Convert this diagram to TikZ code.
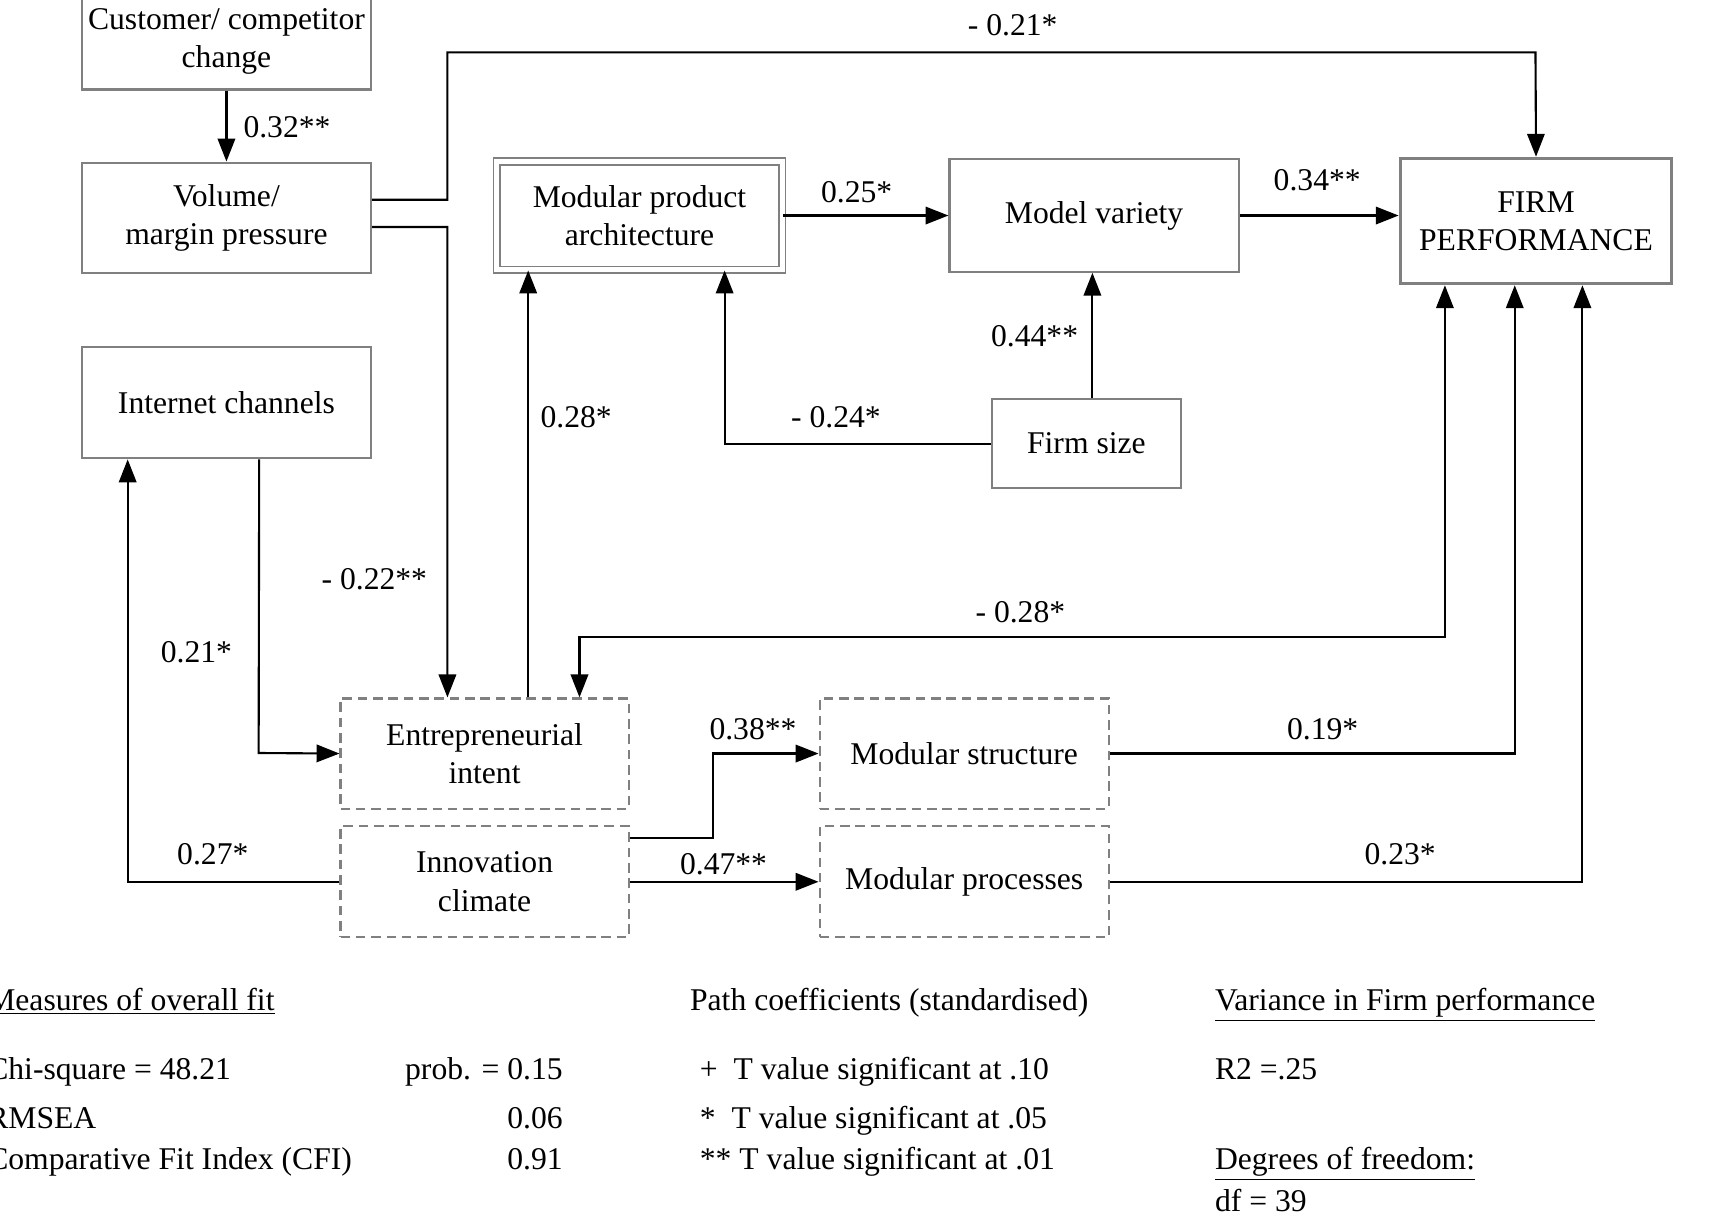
\documentclass[tikz,border=0pt]{standalone}
\usepackage{fontspec}
\setmainfont{Liberation Serif}
\usetikzlibrary{arrows.meta}
\begin{document}
\begin{tikzpicture}[x=0.02cm,y=-0.02cm,
  font=\fontsize{16.5}{20}\selectfont,
  box/.style={draw=black!50, line width=1.1pt, align=center, inner sep=0pt},
  dbox/.style={box, dashed, dash pattern=on 5pt off 3pt},
  arr/.style={-{Triangle[length=0.42cm,width=0.32cm]}, line width=1.1pt},
  lab/.style={inner sep=0pt}]
\useasboundingbox (0,0) rectangle (1566,1114);
\node[box, minimum width=5.3cm, minimum height=1.76cm] (cust) at (207.5,38) {Customer/ competitor\\change};
\node[box, minimum width=5.3cm, minimum height=2.02cm] (vol) at (207.5,199.5) {Volume/\\margin pressure};
\node[box, minimum width=5.3cm, minimum height=2.04cm] (int) at (207.5,369) {Internet channels};
\node[box, double, double distance=2.2pt, line width=1pt, minimum width=5.24cm, minimum height=1.98cm] (mpa) at (586,197.5) {Modular product\\architecture};
\node[box, minimum width=5.3cm, minimum height=2.06cm] (mv) at (1002.5,197.5) {Model variety};
\node[box, line width=1.6pt, minimum width=4.98cm, minimum height=2.3cm] (fp) at (1407.5,202.5) {FIRM\\PERFORMANCE};
\node[box, minimum width=3.46cm, minimum height=1.62cm] (fs) at (995.5,406.5) {Firm size};
\node[dbox, minimum width=5.28cm, minimum height=2.02cm] (ei) at (444,690.5) {Entrepreneurial\\intent};
\node[dbox, minimum width=5.28cm, minimum height=2.04cm] (ic) at (444,808) {Innovation\\climate};
\node[dbox, minimum width=5.3cm, minimum height=2.02cm] (ms) at (883.5,690.5) {Modular structure};
\node[dbox, minimum width=5.3cm, minimum height=2.04cm] (mp) at (883.5,808) {Modular processes};

\draw[arr] (cust.south) -- (vol.north);
\node[lab] at (263,117) {0.32**};
\draw[arr] (vol.east)++(0,-16.5) coordinate (v1) -- (410,183) -- (410,48) -- (1407,48) -- (fp.north);
\node[lab] at (928,23) {- 0.21*};
\draw[arr] (vol.east)++(0,8.5) coordinate (v2) -- (410,208) -- (ei.north -| 410,0);
\node[lab] at (343,531) {- 0.22**};
\draw[arr] (int.south)++(30,0) coordinate (i1) -- (237,690) -- (ei.west);
\node[lab] at (180,598) {0.21*};
\draw[arr] (ic.west) -- (117,808) -- (int.south -| 117,0);
\node[lab] at (195,783) {0.27*};
\draw[arr] (ei.north -| 484,0) -- (mpa.south -| 484,0);
\node[lab] at (528,382) {0.28*};
\draw[arr] (fs.west) -- (664,406.5) -- (mpa.south -| 664,0);
\node[lab] at (766,382) {- 0.24*};
\draw[arr] (fs.north -| 1001,0) -- (mv.south -| 1001,0);
\node[lab] at (948,308) {0.44**};
\draw[arr] (mpa.east) -- (mv.west);
\node[lab] at (785,176) {0.25*};
\draw[arr] (mv.east) -- (fp.west |- mv.east);
\node[lab] at (1207,165) {0.34**};
\draw[arr, {Triangle[length=0.42cm,width=0.32cm]}-{Triangle[length=0.42cm,width=0.32cm]}] (fp.south -| 1324,0) -- (1324,584) -- (531,584) -- (ei.north -| 531,0);
\node[lab] at (935,561) {- 0.28*};
\draw[arr] (ic.east)++(0,-40) coordinate (c1) -- (653,768) -- (653,690.5) -- (ms.west);
\node[lab] at (690,668) {0.38**};
\draw[arr] (ic.east) -- (mp.west);
\node[lab] at (663,792) {0.47**};
\draw[arr] (ms.east) -- (1388,690.5) -- (fp.south -| 1388,0);
\node[lab] at (1212,668) {0.19*};
\draw[arr] (mp.east) -- (1450,808) -- (fp.south -| 1450,0);
\node[lab] at (1283,783) {0.23*};

\begin{scope}[every node/.style={inner sep=0pt, anchor=base west}]
\node at (-12,926) {\underline{Measures of overall fit}};
\node at (-12,989) {Chi-square = 48.21};
\node at (-12,1034) {RMSEA};
\node at (-12,1072) {Comparative Fit Index (CFI)};
\node[anchor=base east] at (516,989) {prob. = 0.15};
\node[anchor=base east] at (516,1034) {0.06};
\node[anchor=base east] at (516,1072) {0.91};
\node at (632,926) {Path coefficients (standardised)};
\node at (641,989) {+\ \ T value significant at .10};
\node at (641,1034) {*\ \ T value significant at .05};
\node at (641,1072) {** T value significant at .01};
\node at (1113,926) {\underline{Variance in Firm performance}};
\node at (1113,989) {R2 =.25};
\node at (1113,1072) {\underline{Degrees of freedom:}};
\node at (1113,1110) {df = 39};
\end{scope}
\end{tikzpicture}
\end{document}
